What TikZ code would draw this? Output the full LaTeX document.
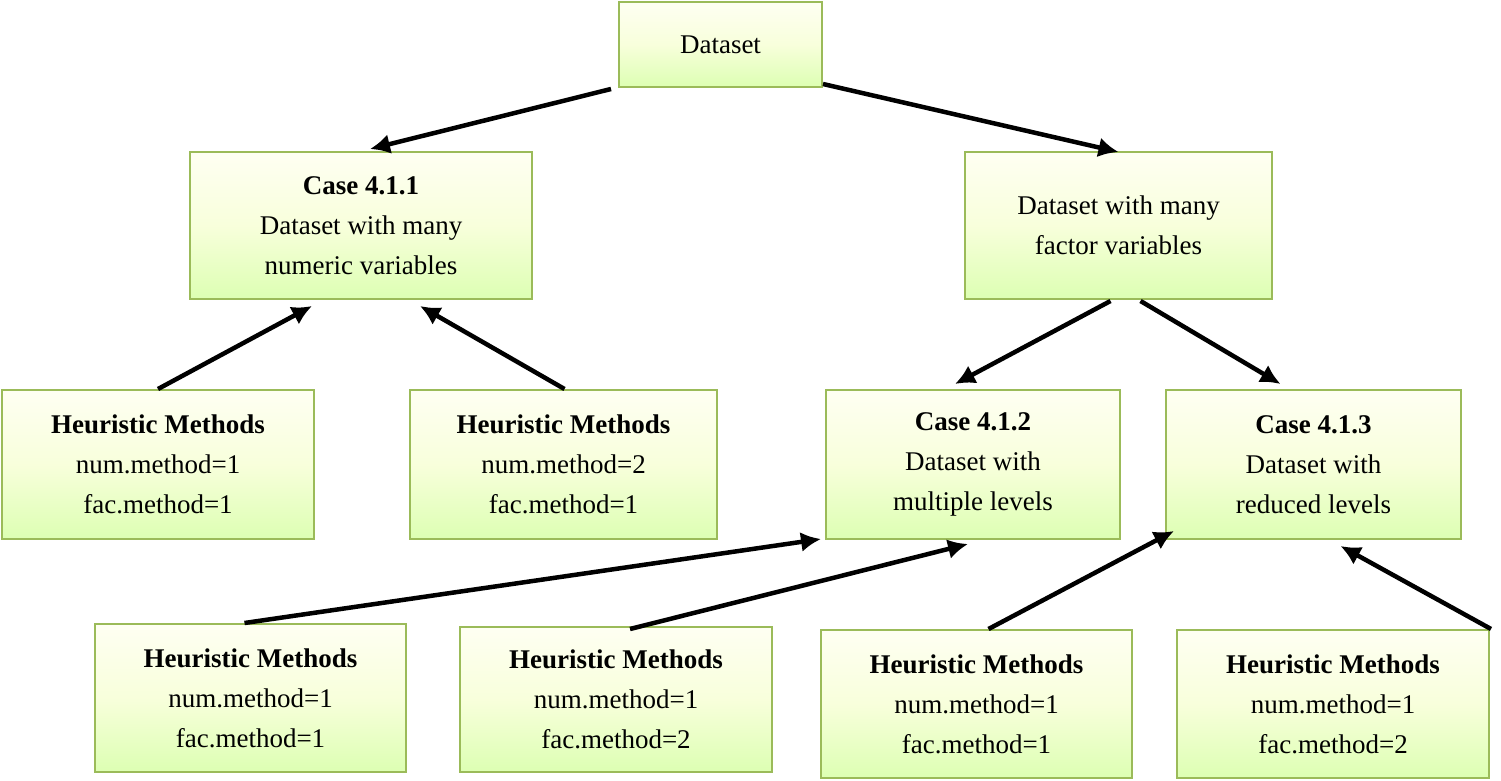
\documentclass[tikz,border=0pt]{standalone}
\usepackage{fontspec}
\setmainfont{Liberation Serif}
\usetikzlibrary{arrows.meta,calc}
\definecolor{bd}{HTML}{9BBB59}
\begin{document}
\begin{tikzpicture}[x=1pt,y=-1pt,
 box/.style={draw=bd,line width=2pt,top color=green!4!yellow!5,bottom color=green!45!yellow!30,middle color=green!20!yellow!14,inner sep=0pt,align=center,font=\fontsize{27}{40}\selectfont},
 arr/.style={line width=4.5pt,-{Latex[length=20pt,width=20pt]}}]
\useasboundingbox (0,0) rectangle (1501,781);
\newcommand\bx[6]{\node[box,minimum width=#4-#2,minimum height=#5-#3] (#1) at ({(#2+#4)/2},{(#3+#5)/2}) {#6};}
\bx{ds}{619}{2}{822}{87}{Dataset}
\bx{c1}{190}{152}{532}{299}{\textbf{Case 4.1.1}\\Dataset with many\\numeric variables}
\bx{fv}{965}{152}{1272}{299}{Dataset with many\\factor variables}
\bx{h1}{2}{390}{314}{539}{\textbf{Heuristic Methods}\\num.method=1\\fac.method=1}
\bx{h2}{410}{390}{717}{539}{\textbf{Heuristic Methods}\\num.method=2\\fac.method=1}
\bx{c2}{826}{390}{1120}{539}{\textbf{Case 4.1.2}\\Dataset with\\multiple levels}
\bx{c3}{1166}{390}{1461}{539}{\textbf{Case 4.1.3}\\Dataset with\\reduced levels}
\bx{h3}{95}{624}{406}{772}{\textbf{Heuristic Methods}\\num.method=1\\fac.method=1}
\bx{h4}{460}{627}{772}{772}{\textbf{Heuristic Methods}\\num.method=1\\fac.method=2}
\bx{h5}{821}{630}{1132}{778}{\textbf{Heuristic Methods}\\num.method=1\\fac.method=1}
\bx{h6}{1177}{630}{1489}{778}{\textbf{Heuristic Methods}\\num.method=1\\fac.method=2}
\draw[arr] ($(ds.south west)+(-7,1)$) -- ($(c1.north)+(9,-2)$);
\draw[arr] ($(ds.south east)+(0,-4)$) -- ($(fv.north)+(0,1)$);
\draw[arr] ($(h1.north)+(0,0)$) -- ($(c1.south)+(-49,6)$);
\draw[arr] ($(h2.north)+(1,0)$) -- ($(c1.south)+(59,6)$);
\draw[arr] ($(fv.south)+(-8,1)$) -- ($(c2.north)+(-18,-5)$);
\draw[arr] ($(fv.south)+(22,1)$) -- ($(c3.north)+(-33,-5)$);
\draw[arr] ($(h3.north)+(-6,0)$) -- ($(c2.south west)+(-4,-1)$);
\draw[arr] ($(h4.north)+(14,3)$) -- ($(c2.south)+(-5,4)$);
\draw[arr] ($(h5.north)+(12,0)$) -- ($(c3.south west)+(9,-9)$);
\draw[arr] ($(h6.north east)+(1,0)$) -- ($(c3.south)+(27,6)$);
\end{tikzpicture}
\end{document}
